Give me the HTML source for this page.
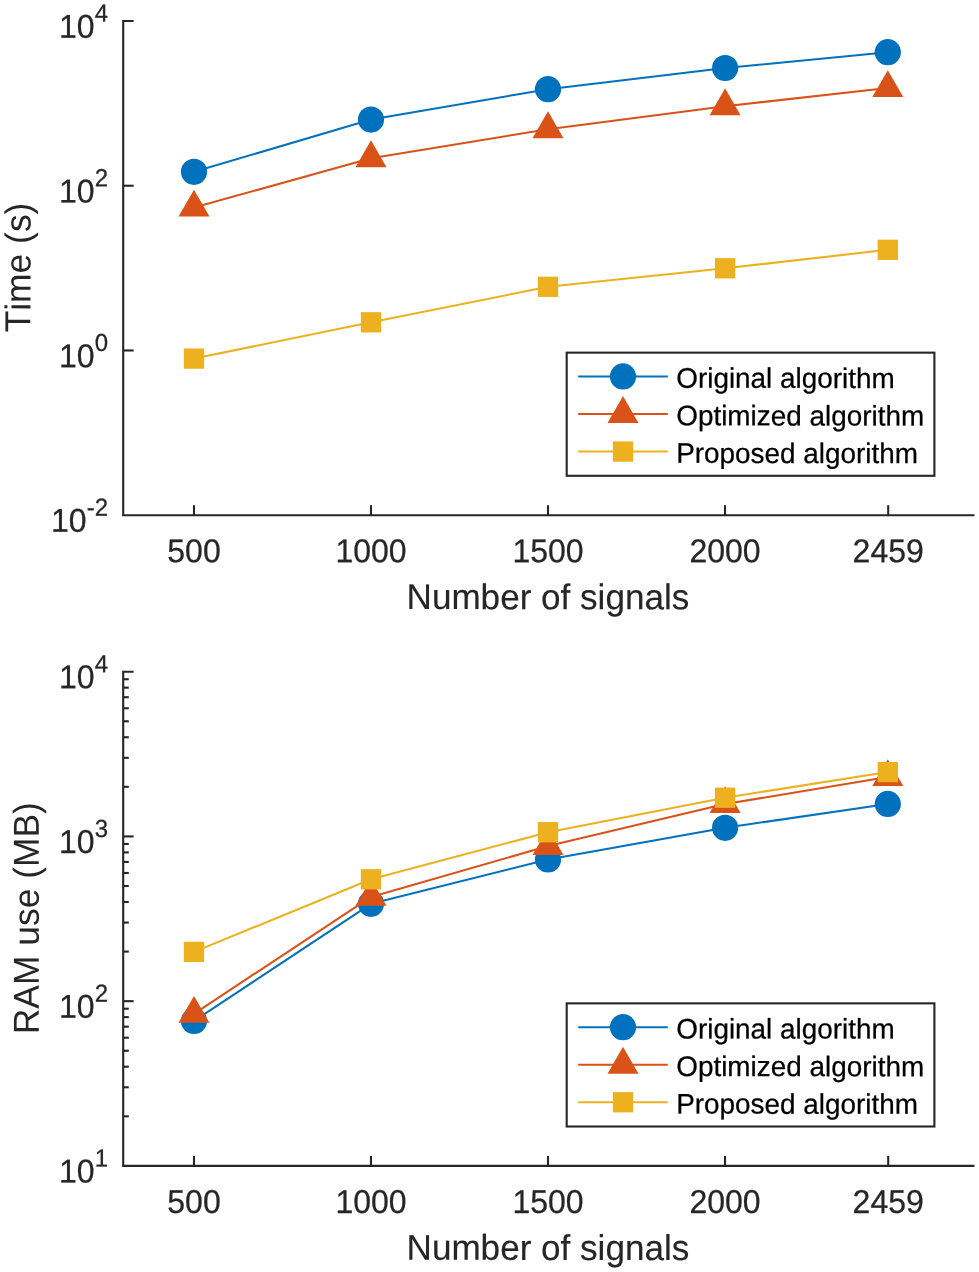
<!DOCTYPE html>
<html lang="en"><head><meta charset="utf-8"><title>Algorithm comparison</title>
<style>
html,body{margin:0;padding:0;background:#fff;}
body{width:979px;height:1272px;overflow:hidden;}
svg{display:block;font-family:"Liberation Sans", sans-serif;}
text{white-space:pre;text-rendering:geometricPrecision;font-kerning:none;}
</style></head><body>
<svg width="979" height="1272" viewBox="0 0 979 1272">
<rect width="979" height="1272" fill="#fff"/>
<path d="M133.6,21.0 H123.2 V515.2 H974.5" fill="none" stroke="#262626" stroke-width="2.1" stroke-linecap="butt" stroke-linejoin="miter"/>
<line x1="194.0" y1="515.2" x2="194.0" y2="505.2" stroke="#262626" stroke-width="2.1"/>
<text transform="translate(194.00,562.30) rotate(0.05) scale(1.0,1.03)" font-size="32.0" fill="#262626" stroke="#262626" stroke-width="0.25" text-anchor="middle">500</text>
<line x1="371.0" y1="515.2" x2="371.0" y2="505.2" stroke="#262626" stroke-width="2.1"/>
<text transform="translate(371.00,562.30) rotate(0.05) scale(1.0,1.03)" font-size="32.0" fill="#262626" stroke="#262626" stroke-width="0.25" text-anchor="middle">1000</text>
<line x1="548.0" y1="515.2" x2="548.0" y2="505.2" stroke="#262626" stroke-width="2.1"/>
<text transform="translate(548.00,562.30) rotate(0.05) scale(1.0,1.03)" font-size="32.0" fill="#262626" stroke="#262626" stroke-width="0.25" text-anchor="middle">1500</text>
<line x1="725.0" y1="515.2" x2="725.0" y2="505.2" stroke="#262626" stroke-width="2.1"/>
<text transform="translate(725.00,562.30) rotate(0.05) scale(1.0,1.03)" font-size="32.0" fill="#262626" stroke="#262626" stroke-width="0.25" text-anchor="middle">2000</text>
<line x1="888.2" y1="515.2" x2="888.2" y2="505.2" stroke="#262626" stroke-width="2.1"/>
<text transform="translate(888.20,562.30) rotate(0.05) scale(1.0,1.03)" font-size="32.0" fill="#262626" stroke="#262626" stroke-width="0.25" text-anchor="middle">2459</text>
<text transform="translate(108.00,37.70) rotate(0.05) scale(1.0,1.03)" font-size="32.0" fill="#262626" stroke="#262626" stroke-width="0.25" text-anchor="end">10<tspan font-size="24.0" dy="-15.63">4</tspan></text>
<line x1="123.2" y1="185.73333333333335" x2="133.6" y2="185.73333333333335" stroke="#262626" stroke-width="2.1"/>
<text transform="translate(108.00,202.43) rotate(0.05) scale(1.0,1.03)" font-size="32.0" fill="#262626" stroke="#262626" stroke-width="0.25" text-anchor="end">10<tspan font-size="24.0" dy="-15.63">2</tspan></text>
<line x1="123.2" y1="350.4666666666667" x2="133.6" y2="350.4666666666667" stroke="#262626" stroke-width="2.1"/>
<text transform="translate(108.00,367.17) rotate(0.05) scale(1.0,1.03)" font-size="32.0" fill="#262626" stroke="#262626" stroke-width="0.25" text-anchor="end">10<tspan font-size="24.0" dy="-15.63">0</tspan></text>
<text transform="translate(108.00,531.90) rotate(0.05) scale(1.0,1.03)" font-size="32.0" fill="#262626" stroke="#262626" stroke-width="0.25" text-anchor="end">10<tspan font-size="24.0" dy="-15.63">-2</tspan></text>
<text transform="translate(547.90,609.20) rotate(0.05) scale(1.0,1.02)" font-size="35.1" fill="#262626" stroke="#262626" stroke-width="0.15" text-anchor="middle">Number of signals</text>
<text transform="translate(30.40,267.50) rotate(-89.97) scale(1.0,1.02)" font-size="35.4" fill="#262626" text-anchor="middle">Time (s)</text>
<polyline points="194.00,171.80 371.00,119.60 548.00,89.20 725.10,68.00 887.80,52.20" fill="none" stroke="#0072BD" stroke-width="2.05" stroke-linejoin="round"/>
<circle cx="194.00" cy="171.80" r="13.1" fill="#0072BD"/>
<circle cx="371.00" cy="119.60" r="13.1" fill="#0072BD"/>
<circle cx="548.00" cy="89.20" r="13.1" fill="#0072BD"/>
<circle cx="725.10" cy="68.00" r="13.1" fill="#0072BD"/>
<circle cx="887.80" cy="52.20" r="13.1" fill="#0072BD"/>
<polyline points="194.00,207.60 371.00,158.20 548.00,129.20 725.10,106.20 887.80,88.10" fill="none" stroke="#D95319" stroke-width="2.05" stroke-linejoin="round"/>
<polygon points="194.00,189.70 209.50,216.55 178.50,216.55" fill="#D95319"/>
<polygon points="371.00,140.30 386.50,167.15 355.50,167.15" fill="#D95319"/>
<polygon points="548.00,111.30 563.50,138.15 532.50,138.15" fill="#D95319"/>
<polygon points="725.10,88.30 740.60,115.15 709.60,115.15" fill="#D95319"/>
<polygon points="887.80,70.20 903.30,97.05 872.30,97.05" fill="#D95319"/>
<polyline points="194.00,358.60 371.00,322.30 548.00,286.80 725.10,268.30 887.80,249.80" fill="none" stroke="#EDB120" stroke-width="2.05" stroke-linejoin="round"/>
<rect x="183.85" y="348.45" width="20.3" height="20.3" fill="#EDB120"/>
<rect x="360.85" y="312.15" width="20.3" height="20.3" fill="#EDB120"/>
<rect x="537.85" y="276.65" width="20.3" height="20.3" fill="#EDB120"/>
<rect x="714.95" y="258.15" width="20.3" height="20.3" fill="#EDB120"/>
<rect x="877.65" y="239.65" width="20.3" height="20.3" fill="#EDB120"/>
<rect x="566.7" y="352.65" width="367.7" height="123.15" fill="#fff" stroke="#262626" stroke-width="2.1"/>
<line x1="578.2" y1="376.45" x2="667.8" y2="376.45" stroke="#0072BD" stroke-width="2.05"/>
<circle cx="623.00" cy="376.45" r="13.1" fill="#0072BD"/>
<text transform="translate(676.20,387.75) rotate(0.05) scale(1.0,1.015)" font-size="27.9" fill="#000" stroke="#000" stroke-width="0.25" text-anchor="start">Original algorithm</text>
<line x1="578.2" y1="414.00" x2="667.8" y2="414.00" stroke="#D95319" stroke-width="2.05"/>
<polygon points="623.00,396.10 638.50,422.95 607.50,422.95" fill="#D95319"/>
<text transform="translate(676.20,425.30) rotate(0.05) scale(1.0,1.015)" font-size="27.9" fill="#000" stroke="#000" stroke-width="0.25" text-anchor="start">Optimized algorithm</text>
<line x1="578.2" y1="451.55" x2="667.8" y2="451.55" stroke="#EDB120" stroke-width="2.05"/>
<rect x="612.85" y="441.40" width="20.3" height="20.3" fill="#EDB120"/>
<text transform="translate(676.20,462.85) rotate(0.05) scale(1.0,1.015)" font-size="27.9" fill="#000" stroke="#000" stroke-width="0.25" text-anchor="start">Proposed algorithm</text>
<path d="M133.6,671.7 H123.2 V1165.9 H974.5" fill="none" stroke="#262626" stroke-width="2.1" stroke-linecap="butt" stroke-linejoin="miter"/>
<line x1="194.0" y1="1165.9" x2="194.0" y2="1155.9" stroke="#262626" stroke-width="2.1"/>
<text transform="translate(194.00,1213.00) rotate(0.05) scale(1.0,1.03)" font-size="32.0" fill="#262626" stroke="#262626" stroke-width="0.25" text-anchor="middle">500</text>
<line x1="371.0" y1="1165.9" x2="371.0" y2="1155.9" stroke="#262626" stroke-width="2.1"/>
<text transform="translate(371.00,1213.00) rotate(0.05) scale(1.0,1.03)" font-size="32.0" fill="#262626" stroke="#262626" stroke-width="0.25" text-anchor="middle">1000</text>
<line x1="548.0" y1="1165.9" x2="548.0" y2="1155.9" stroke="#262626" stroke-width="2.1"/>
<text transform="translate(548.00,1213.00) rotate(0.05) scale(1.0,1.03)" font-size="32.0" fill="#262626" stroke="#262626" stroke-width="0.25" text-anchor="middle">1500</text>
<line x1="725.0" y1="1165.9" x2="725.0" y2="1155.9" stroke="#262626" stroke-width="2.1"/>
<text transform="translate(725.00,1213.00) rotate(0.05) scale(1.0,1.03)" font-size="32.0" fill="#262626" stroke="#262626" stroke-width="0.25" text-anchor="middle">2000</text>
<line x1="888.2" y1="1165.9" x2="888.2" y2="1155.9" stroke="#262626" stroke-width="2.1"/>
<text transform="translate(888.20,1213.00) rotate(0.05) scale(1.0,1.03)" font-size="32.0" fill="#262626" stroke="#262626" stroke-width="0.25" text-anchor="middle">2459</text>
<text transform="translate(108.00,688.40) rotate(0.05) scale(1.0,1.03)" font-size="32.0" fill="#262626" stroke="#262626" stroke-width="0.25" text-anchor="end">10<tspan font-size="24.0" dy="-15.63">4</tspan></text>
<line x1="123.2" y1="836.4333333333334" x2="133.6" y2="836.4333333333334" stroke="#262626" stroke-width="2.1"/>
<text transform="translate(108.00,853.13) rotate(0.05) scale(1.0,1.03)" font-size="32.0" fill="#262626" stroke="#262626" stroke-width="0.25" text-anchor="end">10<tspan font-size="24.0" dy="-15.63">3</tspan></text>
<line x1="123.2" y1="1001.1666666666667" x2="133.6" y2="1001.1666666666667" stroke="#262626" stroke-width="2.1"/>
<text transform="translate(108.00,1017.87) rotate(0.05) scale(1.0,1.03)" font-size="32.0" fill="#262626" stroke="#262626" stroke-width="0.25" text-anchor="end">10<tspan font-size="24.0" dy="-15.63">2</tspan></text>
<text transform="translate(108.00,1182.60) rotate(0.05) scale(1.0,1.03)" font-size="32.0" fill="#262626" stroke="#262626" stroke-width="0.25" text-anchor="end">10<tspan font-size="24.0" dy="-15.63">1</tspan></text>
<line x1="123.2" y1="786.84" x2="128.8" y2="786.84" stroke="#262626" stroke-width="2.1"/>
<line x1="123.2" y1="757.84" x2="128.8" y2="757.84" stroke="#262626" stroke-width="2.1"/>
<line x1="123.2" y1="737.25" x2="128.8" y2="737.25" stroke="#262626" stroke-width="2.1"/>
<line x1="123.2" y1="721.29" x2="128.8" y2="721.29" stroke="#262626" stroke-width="2.1"/>
<line x1="123.2" y1="708.25" x2="128.8" y2="708.25" stroke="#262626" stroke-width="2.1"/>
<line x1="123.2" y1="697.22" x2="128.8" y2="697.22" stroke="#262626" stroke-width="2.1"/>
<line x1="123.2" y1="687.66" x2="128.8" y2="687.66" stroke="#262626" stroke-width="2.1"/>
<line x1="123.2" y1="679.24" x2="128.8" y2="679.24" stroke="#262626" stroke-width="2.1"/>
<line x1="123.2" y1="951.58" x2="128.8" y2="951.58" stroke="#262626" stroke-width="2.1"/>
<line x1="123.2" y1="922.57" x2="128.8" y2="922.57" stroke="#262626" stroke-width="2.1"/>
<line x1="123.2" y1="901.99" x2="128.8" y2="901.99" stroke="#262626" stroke-width="2.1"/>
<line x1="123.2" y1="886.02" x2="128.8" y2="886.02" stroke="#262626" stroke-width="2.1"/>
<line x1="123.2" y1="872.98" x2="128.8" y2="872.98" stroke="#262626" stroke-width="2.1"/>
<line x1="123.2" y1="861.95" x2="128.8" y2="861.95" stroke="#262626" stroke-width="2.1"/>
<line x1="123.2" y1="852.40" x2="128.8" y2="852.40" stroke="#262626" stroke-width="2.1"/>
<line x1="123.2" y1="843.97" x2="128.8" y2="843.97" stroke="#262626" stroke-width="2.1"/>
<line x1="123.2" y1="1116.31" x2="128.8" y2="1116.31" stroke="#262626" stroke-width="2.1"/>
<line x1="123.2" y1="1087.30" x2="128.8" y2="1087.30" stroke="#262626" stroke-width="2.1"/>
<line x1="123.2" y1="1066.72" x2="128.8" y2="1066.72" stroke="#262626" stroke-width="2.1"/>
<line x1="123.2" y1="1050.76" x2="128.8" y2="1050.76" stroke="#262626" stroke-width="2.1"/>
<line x1="123.2" y1="1037.71" x2="128.8" y2="1037.71" stroke="#262626" stroke-width="2.1"/>
<line x1="123.2" y1="1026.68" x2="128.8" y2="1026.68" stroke="#262626" stroke-width="2.1"/>
<line x1="123.2" y1="1017.13" x2="128.8" y2="1017.13" stroke="#262626" stroke-width="2.1"/>
<line x1="123.2" y1="1008.70" x2="128.8" y2="1008.70" stroke="#262626" stroke-width="2.1"/>
<text transform="translate(547.90,1259.90) rotate(0.05) scale(1.0,1.02)" font-size="35.1" fill="#262626" stroke="#262626" stroke-width="0.15" text-anchor="middle">Number of signals</text>
<text transform="translate(38.80,918.20) rotate(-89.97) scale(1.0,1.02)" font-size="35.4" fill="#262626" text-anchor="middle">RAM use (MB)</text>
<polyline points="194.00,1021.00 371.00,903.80 548.00,859.40 725.10,827.80 887.80,803.90" fill="none" stroke="#0072BD" stroke-width="2.05" stroke-linejoin="round"/>
<circle cx="194.00" cy="1021.00" r="13.1" fill="#0072BD"/>
<circle cx="371.00" cy="903.80" r="13.1" fill="#0072BD"/>
<circle cx="548.00" cy="859.40" r="13.1" fill="#0072BD"/>
<circle cx="725.10" cy="827.80" r="13.1" fill="#0072BD"/>
<circle cx="887.80" cy="803.90" r="13.1" fill="#0072BD"/>
<polyline points="194.00,1013.80 371.00,896.90 548.00,846.10 725.10,804.10 887.80,777.10" fill="none" stroke="#D95319" stroke-width="2.05" stroke-linejoin="round"/>
<polygon points="194.00,995.90 209.50,1022.75 178.50,1022.75" fill="#D95319"/>
<polygon points="371.00,879.00 386.50,905.85 355.50,905.85" fill="#D95319"/>
<polygon points="548.00,828.20 563.50,855.05 532.50,855.05" fill="#D95319"/>
<polygon points="725.10,786.20 740.60,813.05 709.60,813.05" fill="#D95319"/>
<polygon points="887.80,759.20 903.30,786.05 872.30,786.05" fill="#D95319"/>
<polyline points="194.00,951.90 371.00,879.30 548.00,832.20 725.10,797.70 887.80,772.10" fill="none" stroke="#EDB120" stroke-width="2.05" stroke-linejoin="round"/>
<rect x="183.85" y="941.75" width="20.3" height="20.3" fill="#EDB120"/>
<rect x="360.85" y="869.15" width="20.3" height="20.3" fill="#EDB120"/>
<rect x="537.85" y="822.05" width="20.3" height="20.3" fill="#EDB120"/>
<rect x="714.95" y="787.55" width="20.3" height="20.3" fill="#EDB120"/>
<rect x="877.65" y="761.95" width="20.3" height="20.3" fill="#EDB120"/>
<rect x="566.7" y="1003.35" width="367.7" height="123.15" fill="#fff" stroke="#262626" stroke-width="2.1"/>
<line x1="578.2" y1="1027.15" x2="667.8" y2="1027.15" stroke="#0072BD" stroke-width="2.05"/>
<circle cx="623.00" cy="1027.15" r="13.1" fill="#0072BD"/>
<text transform="translate(676.20,1038.45) rotate(0.05) scale(1.0,1.015)" font-size="27.9" fill="#000" stroke="#000" stroke-width="0.25" text-anchor="start">Original algorithm</text>
<line x1="578.2" y1="1064.70" x2="667.8" y2="1064.70" stroke="#D95319" stroke-width="2.05"/>
<polygon points="623.00,1046.80 638.50,1073.65 607.50,1073.65" fill="#D95319"/>
<text transform="translate(676.20,1076.00) rotate(0.05) scale(1.0,1.015)" font-size="27.9" fill="#000" stroke="#000" stroke-width="0.25" text-anchor="start">Optimized algorithm</text>
<line x1="578.2" y1="1102.25" x2="667.8" y2="1102.25" stroke="#EDB120" stroke-width="2.05"/>
<rect x="612.85" y="1092.10" width="20.3" height="20.3" fill="#EDB120"/>
<text transform="translate(676.20,1113.55) rotate(0.05) scale(1.0,1.015)" font-size="27.9" fill="#000" stroke="#000" stroke-width="0.25" text-anchor="start">Proposed algorithm</text>
</svg>
</body></html>
